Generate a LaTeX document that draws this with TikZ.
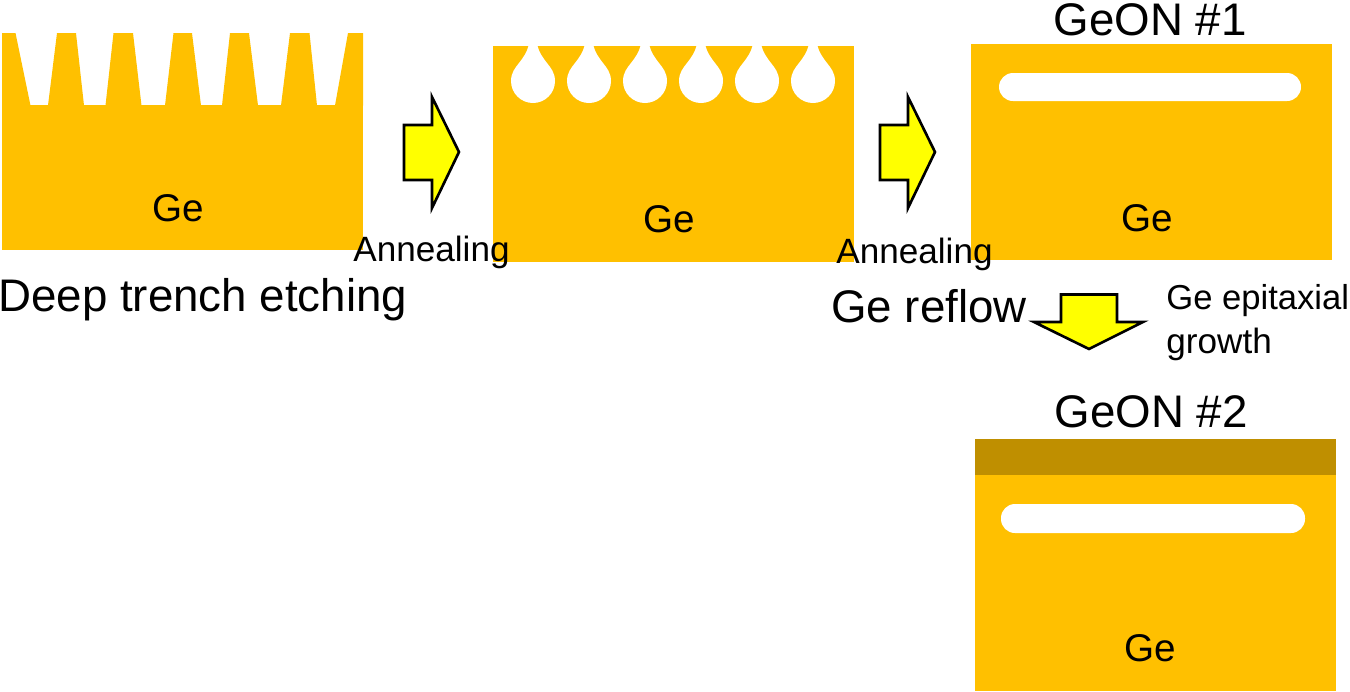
\documentclass[tikz,border=0pt]{standalone}
\usepackage{fontspec}
\setmainfont{Liberation Sans}
\definecolor{georange}{HTML}{FFC000}
\definecolor{epibrown}{HTML}{BF8F00}
\definecolor{arrowyellow}{HTML}{FFFF00}
\tikzset{
    ge/.style={fill=georange},
    hole/.style={fill=white},
    blockarrow/.style={draw=black, fill=arrowyellow, line width=1.5pt, miter limit=10},
    biglabel/.style={inner sep=0pt, font=\fontsize{26}{26}\selectfont},
    midlabel/.style={inner sep=0pt, font=\fontsize{20}{20}\selectfont},
    smalllabel/.style={inner sep=0pt, font=\fontsize{19.7}{19.7}\selectfont},
    gelabel/.style={inner sep=0pt, anchor=base, font=\fontsize{22}{22}\selectfont}
}
\begin{document}
\begin{tikzpicture}[x=0.02cm, y=-0.02cm]
        \useasboundingbox (0,0) rectangle (1350,691);

        \fill[ge] (2,105) rectangle (363,250);
        \foreach \a/\b/\c/\d in {2/15.5/30.5/2, 57/76/84/48, 113.5/133/141.5/105.5, 173.5/192/201/165, 230/249/258/222, 290/309.5/317/281, 348/363/363/335}
            \fill[ge] (\a,33) -- (\b,33) -- (\c,105.5) -- (\d,105.5) -- cycle;

        \fill[ge] (493,46) rectangle (854,262);
        \foreach \c in {533,589,645,701,757,813}
            \fill[hole] (\c-4.5,46) .. controls (\c-6,52) and (\c-10,58) .. (\c-14,63) .. controls (\c-18,68) and (\c-22,73) .. (\c-22,81) arc (180:0:22) .. controls (\c+22,73) and (\c+18,68) .. (\c+14,63) .. controls (\c+10,58) and (\c+6,52) .. (\c+4.5,46) -- cycle;

        \fill[ge] (971,44) rectangle (1332,260);
        \fill[hole, rounded corners=14*0.02cm] (999,73) rectangle (1301,101);

        \fill[epibrown] (975,439) rectangle (1336,475);
        \fill[ge] (975,475) rectangle (1336,691);
        \fill[hole, rounded corners=14*0.02cm] (1001,504) rectangle (1305,533);

        \foreach \dx in {0,476}
            \draw[blockarrow, xshift=\dx*0.02cm] (404,125) -- (432,125) -- (432,97) -- (459,152) -- (432,208) -- (432,180) -- (404,180) -- cycle;
        \draw[blockarrow] (1061,294.5) -- (1117,294.5) -- (1117,322) -- (1143,322) -- (1089,349) -- (1034,322) -- (1061,322) -- cycle;

        \node (gefirst) [gelabel] at (178,221) {Ge};
        \node (gesecond) [gelabel] at (669,232) {Ge};
        \node (gethird) [gelabel] at (1147,231) {Ge};
        \node (gefourth) [gelabel] at (1150,661) {Ge};
        \node (annealfirst) [midlabel, anchor=base west] at (353,261) {Annealing};
        \node (annealsecond) [midlabel, anchor=base west] at (836,263) {Annealing};
        \node (trench) [biglabel, anchor=base west] at (-2,311) {Deep trench etching};
        \node (reflow) [biglabel, anchor=base west] at (831,322) {Ge reflow};
        \node (geonfirst) [biglabel, anchor=base] at (1150,35) {GeON \#1};
        \node (geonsecond) [biglabel, anchor=base] at (1151,427) {GeON \#2};
        \node (epitaxial) [smalllabel, anchor=base west] at (1166,309) {Ge epitaxial};
        \node (growth) [midlabel, anchor=base west] at (1166,353) {growth};
    \end{tikzpicture}
\end{document}
